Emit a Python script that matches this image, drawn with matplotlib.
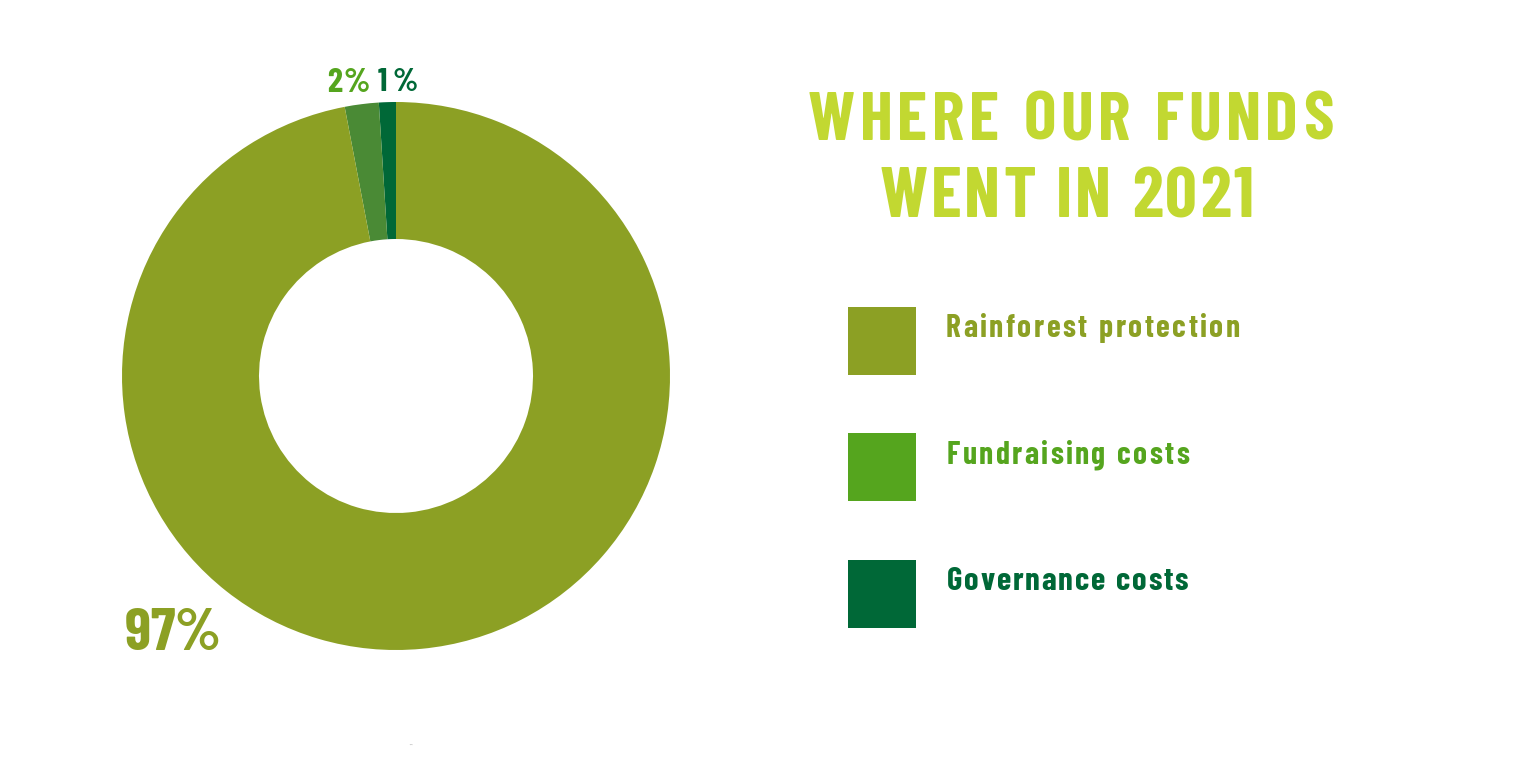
import matplotlib
matplotlib.use("Agg")
import matplotlib.pyplot as plt
from matplotlib import font_manager
from matplotlib.font_manager import FontProperties
from matplotlib.textpath import TextPath

categories = ["Rainforest protection", "Fundraising costs", "Governance costs"]
values = [97, 2, 1]
pct_labels = ["97%", "2%", "1%"]
title_lines = ["WHERE OUR FUNDS", "WENT IN 2021"]

slice_colors = ["#8ca024", "#4a8a35", "#006837"]
legend_colors = ["#8ca024", "#55a51e", "#006837"]
title_color = "#c2d831"

weights = {}
for f in font_manager.fontManager.ttflist:
    if f.style == "normal":
        weights.setdefault(f.name, set()).add(int(f.weight) if str(f.weight).isdigit() else 400)
FAM, WEIGHT = "DejaVu Sans", "bold"
for cand, want in [("Barlow Condensed", 700), ("Roboto Condensed", 700), ("Fjalla One", 400),
                   ("Archivo Narrow", 700), ("Open Sans Condensed", 700),
                   ("IBM Plex Sans Condensed", 700)]:
    if cand in weights and max(weights[cand]) >= want:
        FAM, WEIGHT = cand, want
        break

W, H = 1536, 768
fig = plt.figure(figsize=(W / 100, H / 100), dpi=100)
fig.patch.set_facecolor("white")

# donut axes: center (396,376), radius 274 px
cx, cy, R = 396, 376, 274
ax = fig.add_axes([(cx - R) / W, (H - cy - R) / H, 2 * R / W, 2 * R / H])
ax.pie(values[::-1], colors=slice_colors[::-1], startangle=90, counterclock=True,
       radius=1.0, wedgeprops=dict(width=0.5, edgecolor="none"))
ax.set_xlim(-1, 1)
ax.set_ylim(-1, 1)
ax.set_aspect("equal")
ax.axis("off")

fig.canvas.draw()
renderer = fig.canvas.get_renderer()


def fit_text(s, x0, x1, top, base, color, weight=WEIGHT):
    """Place string so its caps span top..base and ink spans x0..x1 (pixels, y from top)."""
    fp = FontProperties(family=FAM, weight=weight)
    cap_ratio = TextPath((0, 0), "H", size=100, prop=fp).get_extents().height / 100.0
    px = (base - top) / cap_ratio
    size = px * 72 / 100
    widths = []
    for ch in s:
        if ch == " ":
            widths.append(None)
            continue
        t = fig.text(0, 0, ch, fontsize=size, family=[FAM, "DejaVu Sans"], weight=weight)
        widths.append(t.get_window_extent(renderer).width)
        t.remove()
    space_w = 0.22 * px
    n_gaps = len(s) - 1
    ink = sum(w if w is not None else space_w for w in widths)
    tracking = (x1 - x0 - ink) / n_gaps if n_gaps else 0
    xx = x0
    for ch, w in zip(s, widths):
        if w is None:
            xx += space_w + tracking
            continue
        fig.text(xx / W, 1 - base / H, ch, fontsize=size, family=[FAM, "DejaVu Sans"],
                 weight=weight, color=color, ha="left", va="baseline")
        xx += w + tracking


# title
fit_text(title_lines[0], 808, 1333, 92, 140, title_color)
fit_text(title_lines[1], 880, 1253, 168, 217, title_color)

# legend
sq_x, sq_w = 848, 68
sq_tops = [307, 433, 560]
text_spans = [(946, 1240, 315, 337), (947, 1189, 442, 464), (947, 1188, 567, 590)]
for cat, col, top, span in zip(categories, legend_colors, sq_tops, text_spans):
    fig.patches.append(plt.Rectangle((sq_x / W, 1 - (top + sq_w) / H), sq_w / W, sq_w / H,
                                     transform=fig.transFigure, facecolor=col, edgecolor="none"))
    fit_text(cat, *span, col)

# percentage labels
fit_text(pct_labels[0], 125, 220, 608, 650, slice_colors[0])
fit_text(pct_labels[1], 327, 370, 68, 92, legend_colors[1])
fit_text(pct_labels[2], 378, 418, 68, 91, legend_colors[2])

fig.text(410 / W, 1 - 746 / H, "™", fontsize=3, color="#999999", ha="center", va="center")

fig.savefig("out.png", dpi=100, facecolor="white")
